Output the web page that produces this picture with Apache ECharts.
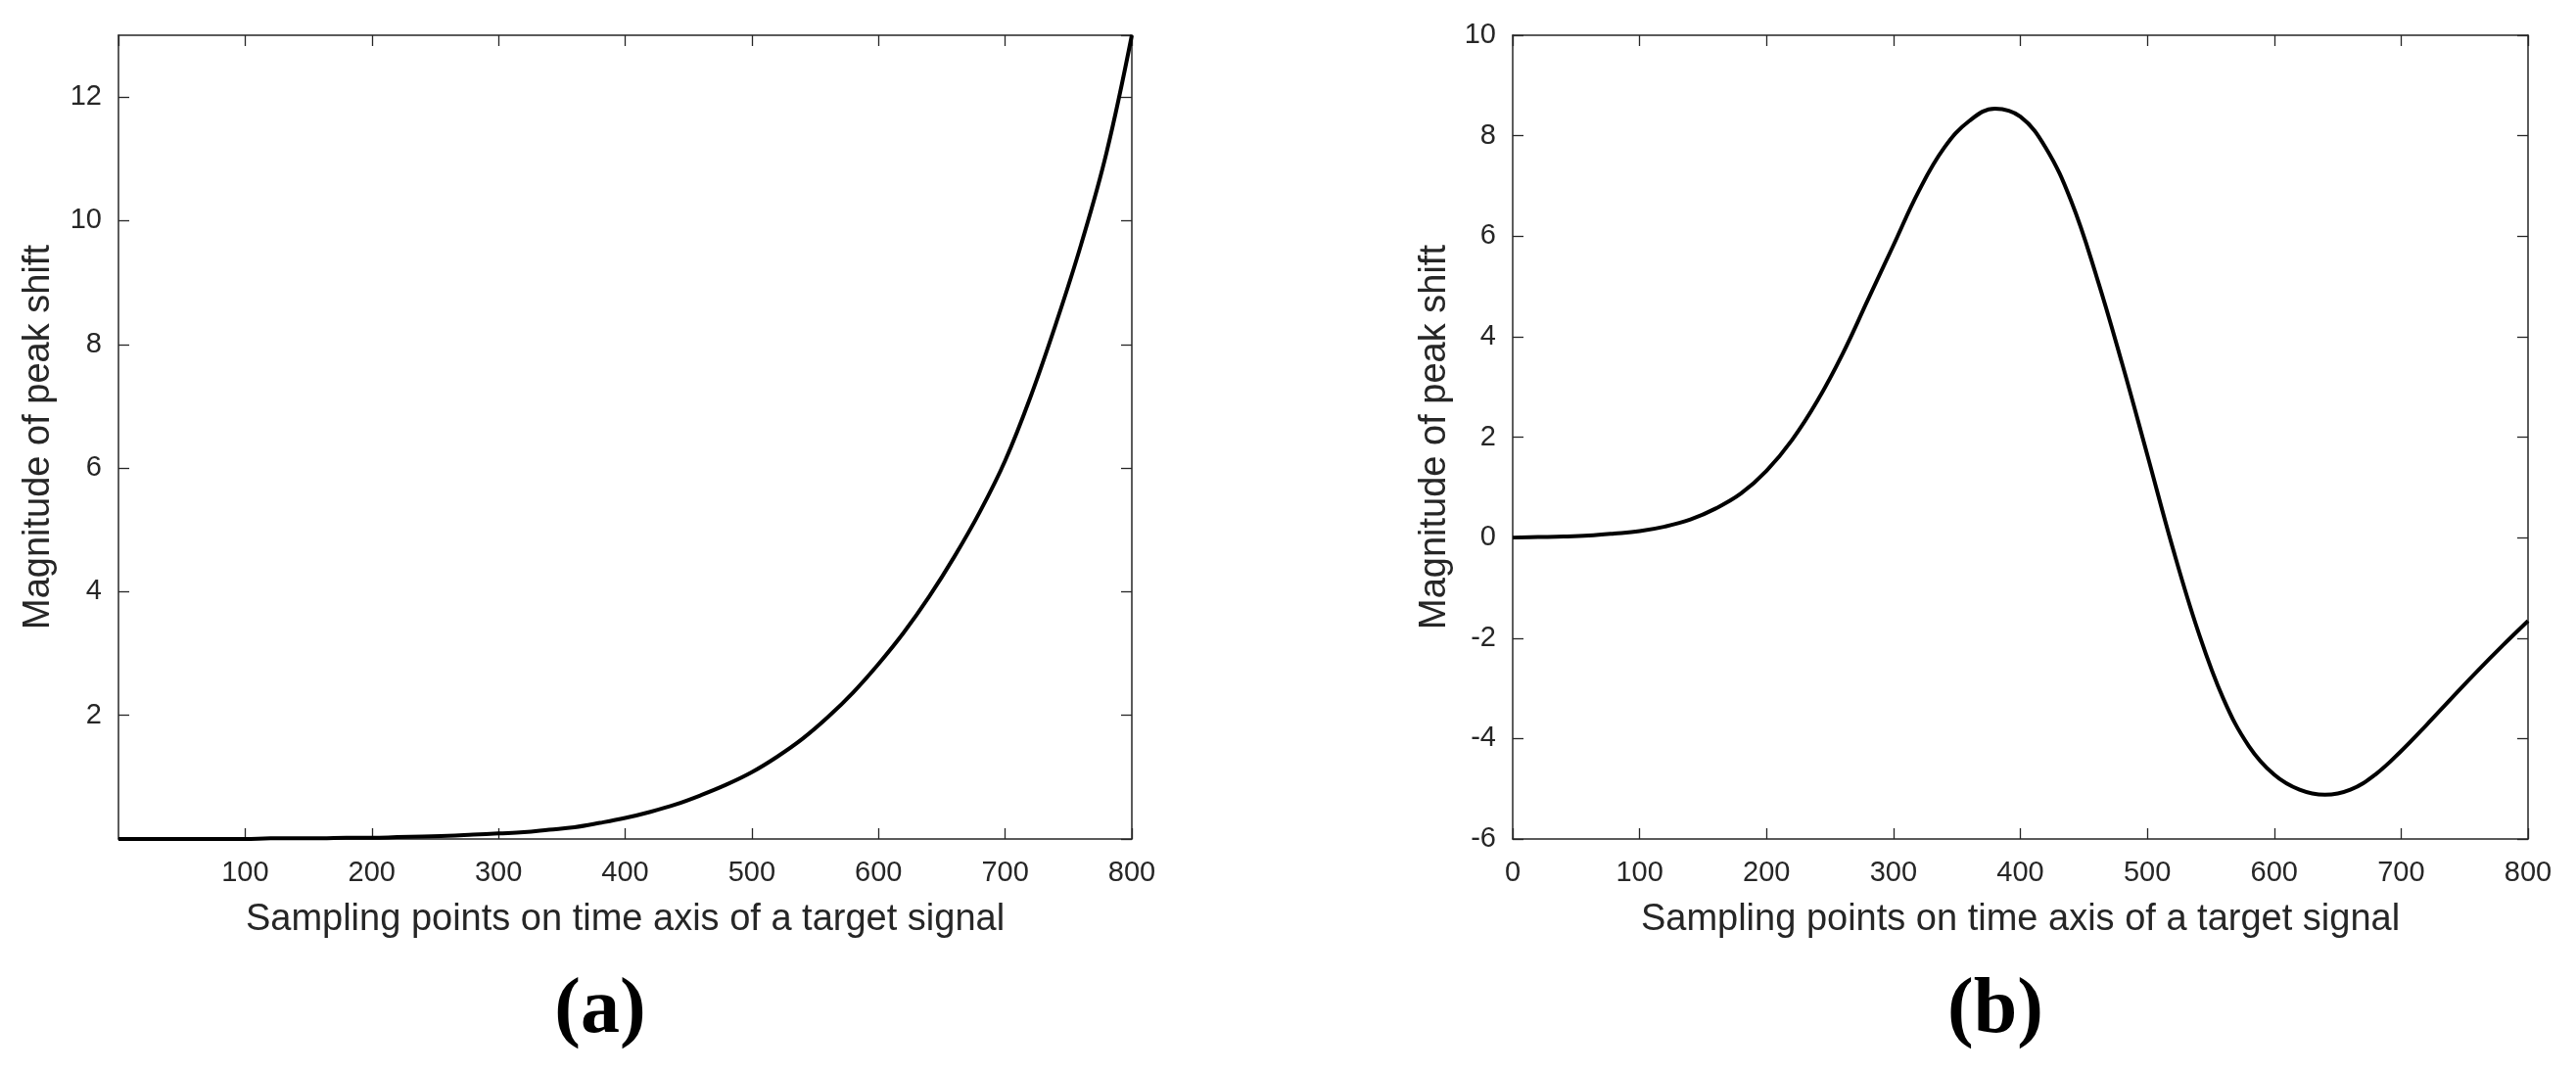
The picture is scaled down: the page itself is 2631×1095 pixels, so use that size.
<!DOCTYPE html>
<html>
<head>
<meta charset="utf-8">
<script src="https://cdn.jsdelivr.net/npm/echarts@6/dist/echarts.min.js"></script>
<style>
html,body{margin:0;padding:0;background:#fff;}
#chart{width:2631px;height:1095px;}
</style>
</head>
<body>
<div id="chart"></div>
<script>
// ---- Data ----
var xTitle = 'Sampling points on time axis of a target signal';
var yTitle = 'Magnitude of peak shift';
var panelLabels = ['(a)', '(b)'];

// Sample positions (same for both panels)
var xS = [0, 20, 40, 60, 80, 100, 120, 140, 160, 180, 200, 220, 240, 260, 280, 300, 320, 340, 360, 380, 400,
          420, 440, 460, 480, 500, 520, 540, 560, 580, 600, 620, 640, 660, 680, 700, 720, 740, 760, 780, 800];

// Panel (a)
var yA = [0, 0, 0, 0, 0, 0.0, 0.01, 0.01, 0.01, 0.02, 0.02, 0.03, 0.04, 0.05, 0.07, 0.09, 0.11, 0.15, 0.19, 0.26, 0.34,
          0.44, 0.56, 0.71, 0.88, 1.08, 1.33, 1.62, 1.97, 2.37, 2.83, 3.34, 3.92, 4.57, 5.29, 6.12, 7.15, 8.33, 9.62, 11.10, 13.0];

// Panel (b)
var yB = [0, 0.01, 0.02, 0.04, 0.08, 0.13, 0.22, 0.36, 0.58, 0.88, 1.33, 1.94, 2.72, 3.66, 4.74, 5.82, 6.90, 7.76, 8.30, 8.54, 8.38,
          7.76, 6.70, 5.20, 3.48, 1.65, -0.20, -1.86, -3.21, -4.15, -4.72, -5.02, -5.12, -5.02, -4.71, -4.25, -3.73, -3.19, -2.66, -2.15, -1.66];

// Axis ranges / ticks
var xRange = [0, 800], xStep = 100;
var yRangeA = [0, 13], yStepA = 2;
var yRangeB = [-6, 10], yStepB = 2;

function pairs(xs, ys) { return xs.map(function (x, i) { return [x, ys[i]]; }); }

var FONT = '"Liberation Sans", Arial, Helvetica, sans-serif';
var AX = '#262626';

function xAxisPair(grid, showMin) {
  var common = {
    type: 'value', gridIndex: grid, min: xRange[0], max: xRange[1], interval: xStep,
    splitLine: { show: false },
    axisLine: { show: true, onZero: false, lineStyle: { color: AX, width: 1.5 } },
    axisTick: { show: true, inside: true, length: 11, lineStyle: { color: AX, width: 1.3 } }
  };
  var bottom = Object.assign({}, common, {
    position: 'bottom',
    axisLabel: { show: true, margin: 20, fontSize: 29, color: AX, fontFamily: FONT, showMinLabel: showMin, showMaxLabel: true },
    name: xTitle, nameLocation: 'middle', nameGap: 64,
    nameTextStyle: { fontSize: 38, color: AX, fontFamily: FONT }
  });
  var top = Object.assign({}, common, { position: 'top', axisLabel: { show: false } });
  return [bottom, top];
}

function yAxisPair(grid, range, step, showMin, showMax, gap) {
  var common = {
    type: 'value', gridIndex: grid, min: range[0], max: range[1], interval: step,
    splitLine: { show: false },
    axisLine: { show: true, onZero: false, lineStyle: { color: AX, width: 1.5 } },
    axisTick: { show: true, inside: true, length: 11, lineStyle: { color: AX, width: 1.3 } }
  };
  var left = Object.assign({}, common, {
    position: 'left',
    axisLabel: { show: true, margin: 17, fontSize: 29, color: AX, fontFamily: FONT, showMinLabel: showMin, showMaxLabel: showMax },
    name: yTitle, nameLocation: 'middle', nameGap: gap,
    nameTextStyle: { fontSize: 38, color: AX, fontFamily: FONT }
  });
  var right = Object.assign({}, common, { position: 'right', axisLabel: { show: false } });
  return [left, right];
}

var xa = xAxisPair(0, false), xb = xAxisPair(1, true);
var ya = yAxisPair(0, yRangeA, yStepA, false, false, 62);
var yb = yAxisPair(1, yRangeB, yStepB, true, true, 60);

var option = {
  animation: false,
  backgroundColor: '#ffffff',
  grid: [
    { left: 121, top: 36, width: 1035, height: 821, containLabel: false },
    { left: 1545, top: 36, width: 1037, height: 821, containLabel: false }
  ],
  xAxis: [xa[0], xa[1], xb[0], xb[1]],
  yAxis: [ya[0], ya[1], yb[0], yb[1]],
  series: [
    {
      type: 'line', xAxisIndex: 0, yAxisIndex: 0, data: pairs(xS, yA),
      showSymbol: false, smooth: 0.4,
      lineStyle: { color: '#000000', width: 4 }
    },
    {
      type: 'line', xAxisIndex: 2, yAxisIndex: 2, data: pairs(xS, yB),
      showSymbol: false, smooth: 0.4,
      lineStyle: { color: '#000000', width: 4 }
    }
  ],
  graphic: [
    { type: 'text', x: 613, y: 1033, style: { text: panelLabels[0], font: 'bold 80px "Liberation Serif", "Times New Roman", serif', fill: '#000', align: 'center', verticalAlign: 'middle' } },
    { type: 'text', x: 2038, y: 1033, style: { text: panelLabels[1], font: 'bold 80px "Liberation Serif", "Times New Roman", serif', fill: '#000', align: 'center', verticalAlign: 'middle' } }
  ]
};

var chart = echarts.init(document.getElementById('chart'), null, { renderer: 'canvas' });
chart.setOption(option);
</script>
</body>
</html>
